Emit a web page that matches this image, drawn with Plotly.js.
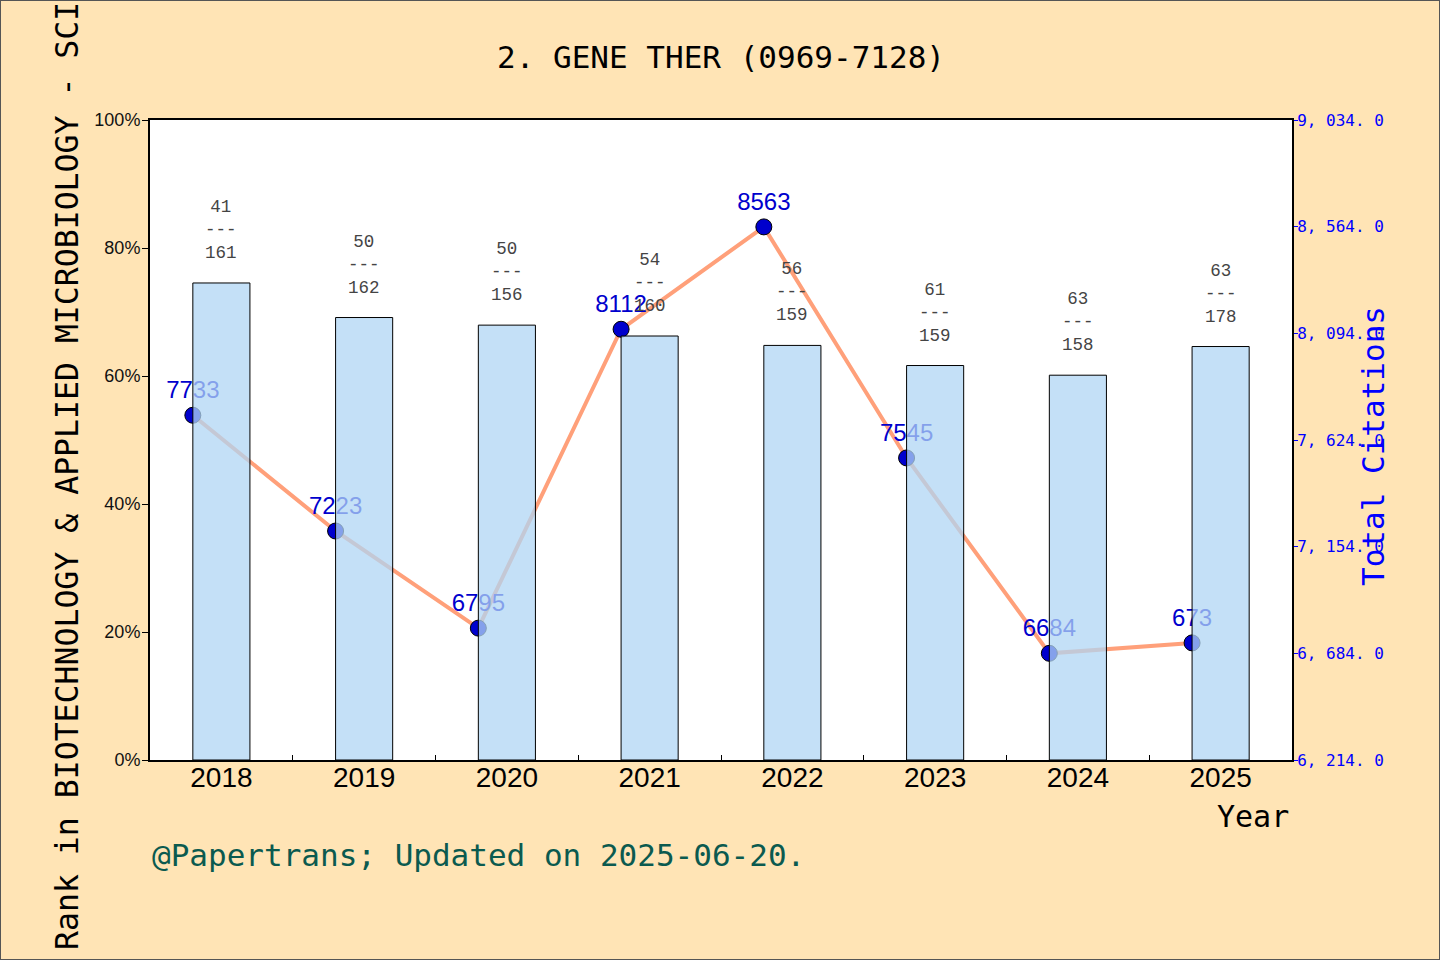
<!DOCTYPE html>
<html>
<head>
<meta charset="utf-8">
<script src="https://cdn.plot.ly/plotly-3.0.1.min.js"></script>
<style>
  html, body { margin: 0; padding: 0; background: #FFE4B5; }
  #wrap { position: relative; width: 1440px; height: 960px; }
  #chart { width: 1440px; height: 960px; }
  #frame { position: absolute; left: 0; top: 0; width: 1438px; height: 958px; border: 1px solid #555; pointer-events: none; }
</style>
</head>
<body>
<div id="wrap"><div id="chart"></div><div id="frame"></div></div>
<script>
// ---- data ----
const years = ['2018', '2019', '2020', '2021', '2022', '2023', '2024', '2025'];
const ranks = [41, 50, 50, 54, 56, 61, 63, 63];
const totals = [161, 162, 156, 160, 159, 159, 158, 178];
const citations = [7733, 7223, 6795, 8112, 8563, 7545, 6684, 6730];
const citationLabels = ['7733', '7223', '6795', '8112', '8563', '7545', '6684', '673'];
const leftTickVals = [0, 0.2, 0.4, 0.6, 0.8, 1.0];
const leftTickText = ['0%', '20%', '40%', '60%', '80%', '100%'];
const rightTickVals = [6214, 6684, 7154, 7624, 8094, 8564, 9034];
const rightTickText = ['6, 214. 0', '6, 684. 0', '7, 154. 0', '7, 624. 0', '8, 094. 0', '8, 564. 0', '9, 034. 0'];
const chartTitle = '2. GENE THER (0969-7128)';
const leftTitle = 'Rank in BIOTECHNOLOGY & APPLIED MICROBIOLOGY - SCI';
const rightTitle = 'Total Citations';
const xTitle = 'Year';
const footer = '@Papertrans; Updated on 2025-06-20.';

// derived: share of journals ranked below
const rankShare = ranks.map((r, i) => 1 - r / totals[i]);
const barLabels = ranks.map((r, i) => r + '<br>---<br>' + totals[i]);

const mono = 'DejaVu Sans Mono, monospace';

const lineTrace = {
  type: 'scatter',
  x: years,
  y: citations,
  xaxis: 'x',
  yaxis: 'y',
  mode: 'lines+markers+text',
  text: citationLabels,
  textposition: 'top center',
  textfont: { family: 'Liberation Sans, Arial, sans-serif', size: 24, color: '#0000CD' },
  line: { color: '#FFA07A', width: 4 },
  marker: { color: '#0000CD', size: 16, line: { color: '#000', width: 1 } },
  hoverinfo: 'skip',
  showlegend: false,
  cliponaxis: false
};

const barTrace = {
  type: 'bar',
  x: years,
  y: rankShare,
  xaxis: 'x2',
  yaxis: 'y2',
  width: 0.4,
  marker: { color: 'rgba(176,213,244,0.75)', line: { color: '#000', width: 1 } },
  hoverinfo: 'skip',
  showlegend: false
};

const annotations = years.map((yr, i) => ({
  xref: 'x2', yref: 'y2', x: i, y: rankShare[i],
  text: barLabels[i], showarrow: false,
  xanchor: 'center', yanchor: 'bottom', yshift: 18,
  font: { family: 'Liberation Mono, monospace', size: 17.5, color: '#444' }
}));

annotations.push(
  { xref: 'paper', yref: 'paper', x: -0.0727, y: -0.30, xanchor: 'center', yanchor: 'bottom',
    textangle: -90, text: leftTitle, showarrow: false,
    font: { family: mono, size: 31.5, color: '#000' } },
  { xref: 'paper', yref: 'paper', x: 1.0709, y: 0.4906, xanchor: 'center', yanchor: 'middle',
    textangle: -90, text: rightTitle, showarrow: false,
    font: { family: mono, size: 31, color: '#0000FF' } },
  { xref: 'paper', yref: 'paper', x: 0.9658, y: -0.089, xanchor: 'center', yanchor: 'middle',
    text: xTitle, showarrow: false,
    font: { family: mono, size: 30, color: '#000' } },
  { xref: 'paper', yref: 'paper', x: 0, y: -0.148, xanchor: 'left', yanchor: 'middle',
    text: footer, showarrow: false,
    font: { family: mono, size: 31, color: '#0B5A4F' } }
);

const layout = {
  width: 1440, height: 960,
  paper_bgcolor: '#FFE4B5',
  plot_bgcolor: '#FFFFFF',
  margin: { l: 150, r: 148, t: 120, b: 200, pad: 0 },
  title: {
    text: chartTitle, x: 0.5, xref: 'paper', xanchor: 'center',
    y: 1 - 57 / 960, yanchor: 'middle',
    font: { family: mono, size: 31, color: '#000' }
  },
  xaxis: {
    type: 'category', range: [-0.3, 7.7], visible: false, fixedrange: true
  },
  yaxis: {
    side: 'right', range: [6214, 9034],
    tickmode: 'array', tickvals: rightTickVals, ticktext: rightTickText,
    ticks: 'outside', ticklen: 4, tickcolor: '#0000FF',
    tickfont: { family: mono, size: 16, color: '#0000FF' },
    ticklabelstandoff: -4,
    showgrid: false, zeroline: false,
    showline: true, linecolor: '#000', linewidth: 2
  },
  xaxis2: {
    type: 'category', overlaying: 'x', range: [-0.5, 7.5],
    side: 'bottom',
    ticks: 'inside', tickson: 'boundaries', ticklen: 5, tickcolor: '#000',
    tickfont: { family: 'Liberation Sans, Arial, sans-serif', size: 28, color: '#000' },
    ticklabelstandoff: -9,
    showgrid: false, zeroline: false,
    showline: true, mirror: true, linecolor: '#000', linewidth: 2
  },
  yaxis2: {
    overlaying: 'y', side: 'left', range: [0, 1],
    tickmode: 'array', tickvals: leftTickVals, ticktext: leftTickText,
    ticks: 'outside', ticklen: 6, tickcolor: '#000',
    tickfont: { family: 'Liberation Sans, Arial, sans-serif', size: 18, color: '#111' },
    ticklabelstandoff: -2,
    showgrid: false, zeroline: false,
    showline: true, linecolor: '#000', linewidth: 2
  },
  annotations: annotations,
  showlegend: false
};

Plotly.newPlot('chart', [lineTrace, barTrace], layout, { staticPlot: true, displayModeBar: false });
</script>
</body>
</html>
